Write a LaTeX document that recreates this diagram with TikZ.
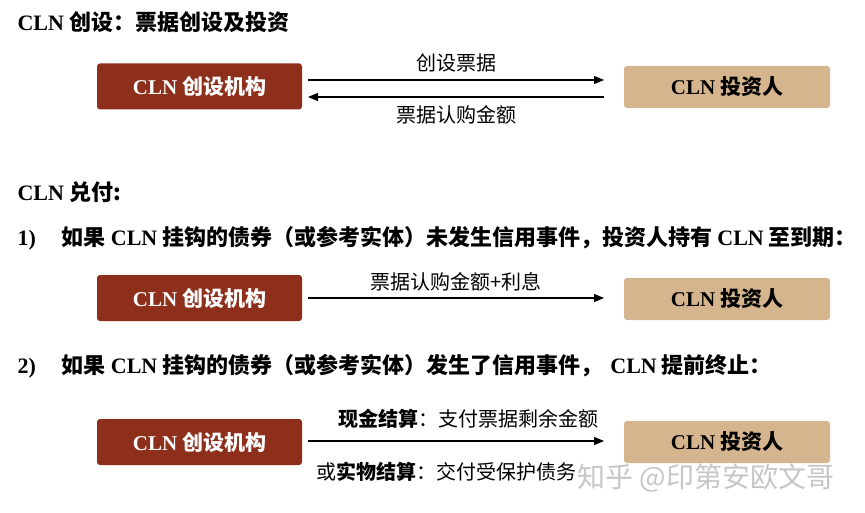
\documentclass[tikz,border=0pt]{standalone}
\usepackage{fontspec}
\setmainfont{Noto Sans CJK SC}
\newfontfamily\lat{Liberation Serif}
\usetikzlibrary{arrows.meta}
\definecolor{dred}{HTML}{8E2F1B}
\definecolor{tan}{HTML}{D5B58E}
\tikzset{x=1pt,y=-1pt,
 lbox/.style={fill=dred,rounded corners=3pt,minimum width=205pt,minimum height=46pt,text=white,font=\fontsize{21}{23}\selectfont\bfseries},
 rbox/.style={fill=tan,rounded corners=3pt,minimum width=206pt,minimum height=42pt,text=black,font=\fontsize{21}{23}\selectfont\bfseries},
 arr/.style={-{Triangle[length=10pt,width=8pt]},line width=1.1pt},
 lab/.style={font=\fontsize{20}{22}\selectfont},
 head/.style={anchor=west,font=\fontsize{22}{24}\selectfont\bfseries}}
\begin{document}
\begin{tikzpicture}
\useasboundingbox (0,0) rectangle (865,513);
\node[head] (h1) at (14,22) {{\lat CLN} 创设：票据创设及投资};
\node[lbox] (a1) at (199.5,86.5) {{\lat CLN} 创设机构};
\node[rbox] (b1) at (727,87) {{\lat CLN} 投资人};
\coordinate (a1t) at (308,80); \coordinate (b1t) at (604,80);
\coordinate (a1b) at (308,97); \coordinate (b1b) at (604,97);
\draw[arr] (a1t) -- node[lab,above=4pt] (l1) {创设票据} (b1t);
\draw[arr] (b1b) -- node[lab,below=5pt] (l2) {票据认购金额} (a1b);
\node[head] (h2) at (14,192) {{\lat CLN} 兑付:};
\node[head] (h3) at (14,238) {{\lat 1)}\hspace{26pt}如果 {\lat CLN} 挂钩的债券（或参考实体）未发生信用事件，投资人持有 {\lat CLN} 至到期：};
\node[lbox] (a2) at (199.5,298) {{\lat CLN} 创设机构};
\node[rbox] (b2) at (727,299) {{\lat CLN} 投资人};
\coordinate (s2) at (308,298); \coordinate (e2) at (604,298);
\draw[arr] (s2) -- node[lab,above=3pt] (l3) {票据认购金额+利息} (e2);
\node[head] (h4) at (14,366) {{\lat 2)}\hspace{26pt}如果 {\lat CLN} 挂钩的债券（或参考实体）发生了信用事件，\hspace{8pt}{\lat CLN} 提前终止：};
\node[lbox] (a3) at (199.5,442) {{\lat CLN} 创设机构};
\node[rbox] (b3) at (727,442) {{\lat CLN} 投资人};
\coordinate (s3) at (308,441); \coordinate (e3) at (604,441);
\draw[arr] (s3) -- (e3);
\node[lab] (l4) at (468,419) {\textbf{现金结算}：支付票据剩余金额};
\node[lab] (l5) at (446,472) {或\textbf{实物结算}：交付受保护债务};
\node[font=\fontsize{28}{30}\selectfont,text=white!55!gray,anchor=west] (wm) at (574,478) {知乎 @印第安欧文哥};
\end{tikzpicture}
\end{document}
